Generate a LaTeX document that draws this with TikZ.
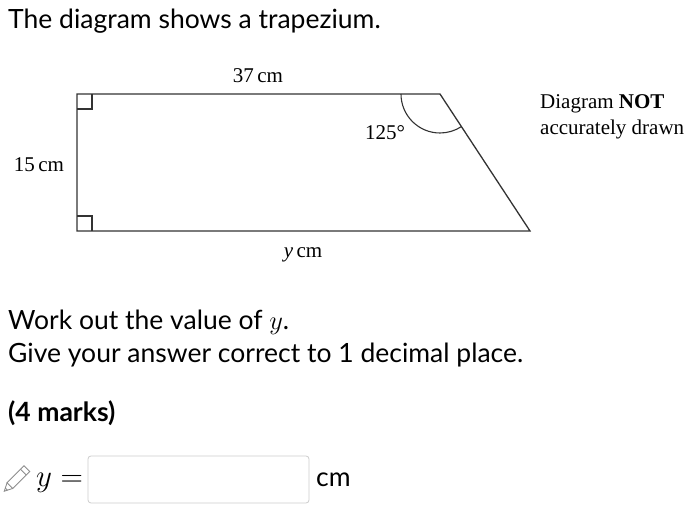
\RequirePackage{fix-cm}
\documentclass[tikz,border=0pt]{standalone}
\usepackage{fontspec}
\setmainfont{Lato}
\newfontfamily\diagfont{Liberation Serif}

\begin{document}
\begin{tikzpicture}[x=1pt, y=1pt,
    qtext/.style={anchor=base west, inner sep=0pt, font=\fontsize{26.5}{31}\selectfont},
    dlabel/.style={anchor=base, inner sep=0pt, font=\diagfont\fontsize{21}{25}\selectfont},
    edge/.style={line width=1.3pt, draw=black!80},
    anglemark/.style={line width=1.1pt, draw=black!80}]
    \useasboundingbox (0,0) rectangle (693,508);

    \node[qtext] (title) at (8,479) {The diagram shows a trapezium.};

    % trapezium
    \coordinate (tl) at (77,414);
    \coordinate (tr) at (440,414);
    \coordinate (br) at (530,277);
    \coordinate (bl) at (77,277);
    \draw[edge] (tl) -- (tr) -- (br) -- (bl) -- cycle;
    \draw[anglemark] ([xshift=15]tl) |- ([yshift=-15]tl);
    \draw[anglemark] ([xshift=15]bl) |- ([yshift=15]bl);
    \draw[anglemark] (tr) ++(180:39) arc[start angle=180, end angle=303.3, radius=39];

    \node[dlabel] (top) at (258,425) {37\,cm};
    \node[dlabel] (angle) at (385,368) {125°};
    \node[dlabel] (left) at (39,336) {15\,cm};
    \node[dlabel] (bottom) at (303,250) {\textit{y}\,cm};
    \node[dlabel, anchor=base west] (note) at (540,399) {Diagram \textbf{NOT}};
    \node[dlabel, anchor=base west] (note2) at (540,373) {accurately drawn};

    \node[qtext] (work) at (8,178) {Work out the value of $y$.};
    \node[qtext] (give) at (8,145) {Give your answer correct to 1 decimal place.};
    \node[qtext, font=\fontsize{26.5}{31}\selectfont\bfseries] (marks) at (8,86) {(4 marks)};

    % answer line
    \begin{scope}[shift={(17,29.5)}, rotate=45, draw=black!45, line width=0.9pt]
        \draw (-10,-4) rectangle (14,4);
        \draw (9,-4) -- (9,4);
        \draw (-10,-4) -- (-18,0) -- (-10,4);
        \draw (-15,-1.5) -- (-15,1.5);
    \end{scope}
    \node[anchor=base west, inner sep=0pt, font=\fontsize{31}{36}\selectfont] (eq) at (36,21) {$y=$};
    \node[draw=black!20, line width=0.8pt, rounded corners=3pt, minimum width=221, minimum height=47] (ansbox) at (198.5,28.5) {};
    \node[qtext] (unit) at (316,21) {cm};
\end{tikzpicture}
\end{document}
